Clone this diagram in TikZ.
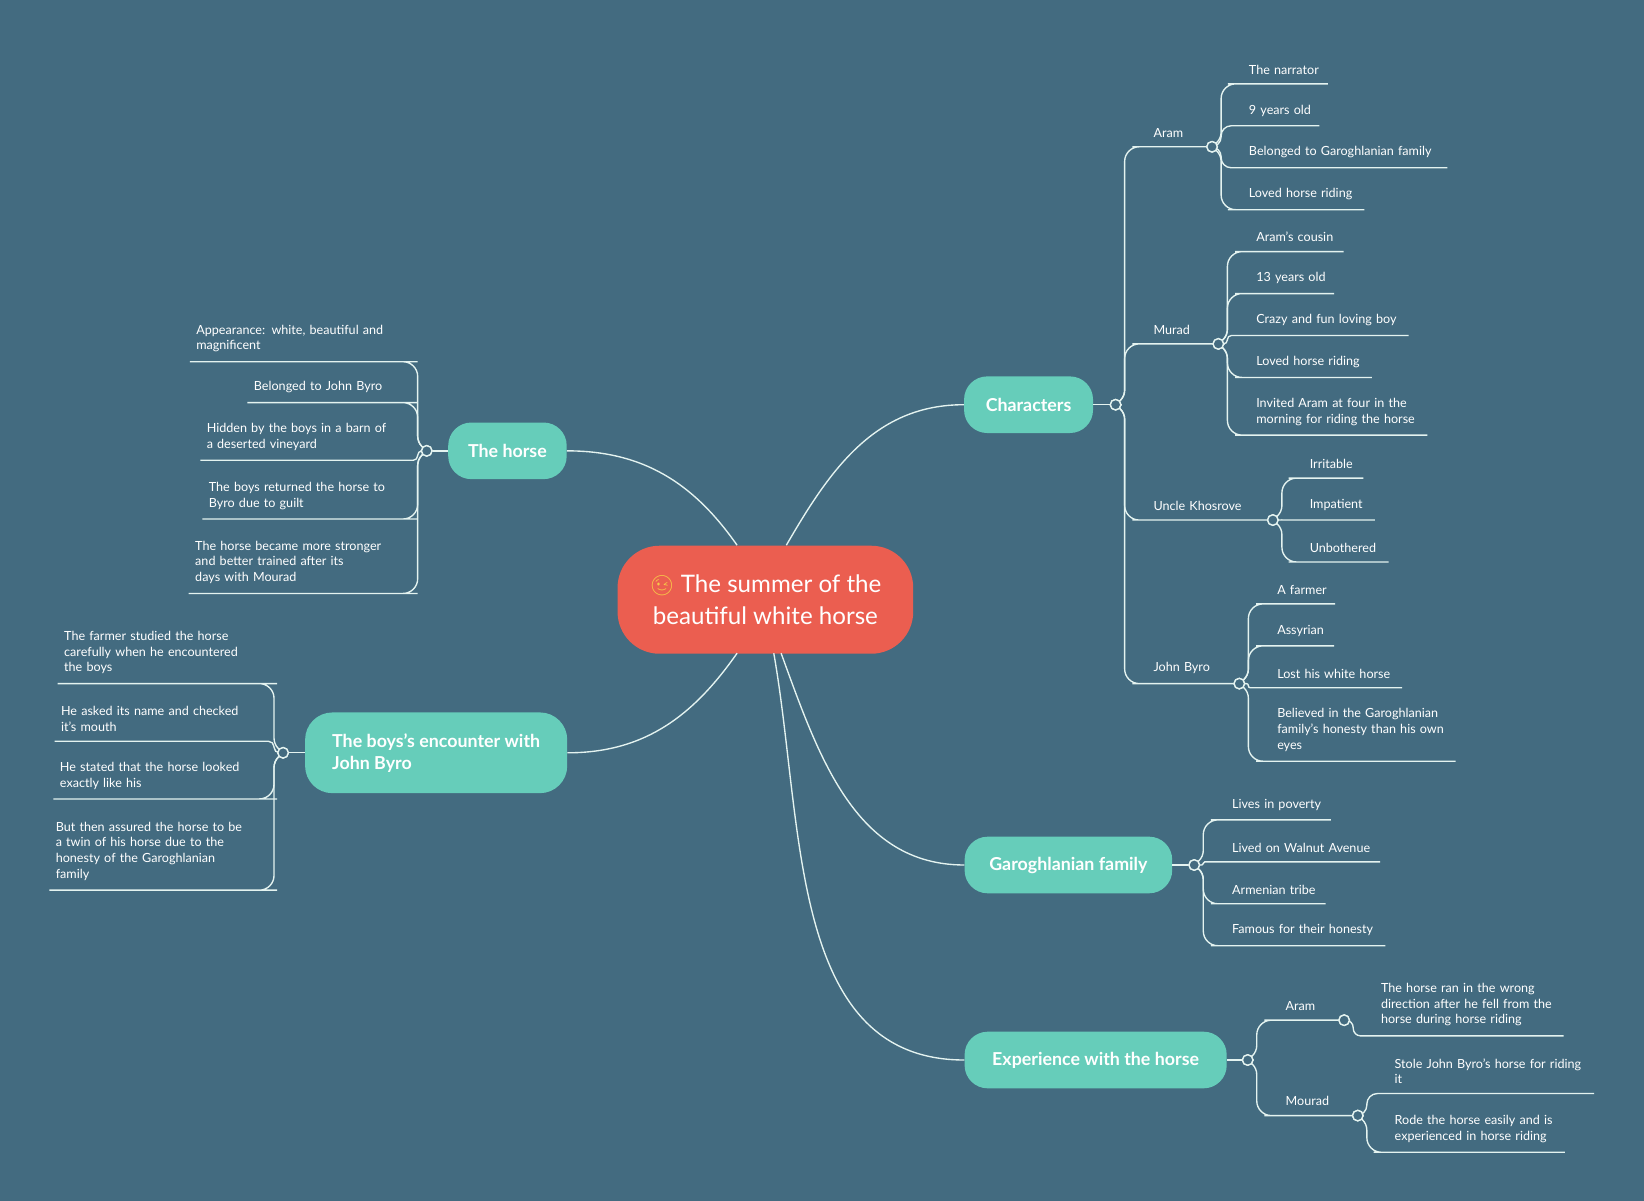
\documentclass[tikz,border=0pt]{standalone}
\usepackage{fontspec}
\usetikzlibrary{calc}
\setmainfont{Lato}
\newfontfamily\emo{Noto Emoji}
\definecolor{bgc}{HTML}{436B80}
\definecolor{redc}{HTML}{EB5E50}
\definecolor{tealc}{HTML}{66CDBA}
\definecolor{linec}{HTML}{E4F3F0}
\definecolor{emoc}{HTML}{F7C948}
\newcommand\leafR[5]{\node[leaf,anchor=south west,text width=\dimexpr #4pt-#2pt-6pt\relax] (#1) at ({#2-6},#3) {#5};}
\newcommand\leafL[5]{\node[leaf,anchor=south west,text width=\dimexpr #4pt-#2pt-12pt\relax] (#1) at (#2,#3) {#5};}
\newcommand\conR[2]{\draw[conn] let \p1=(#1.east), \p2=(#2.south west), \n1={max(0.1pt,min(14pt,abs(\y2-\y1)/2.1))} in [rounded corners=\n1] (\p1) -- ++(3,0) |- (\p2) -- (#2.south east);}
\newcommand\conL[2]{\draw[conn] let \p1=(#1.west), \p2=(#2.south east), \n1={max(0.1pt,min(14pt,abs(\y2-\y1)/2.1))} in [rounded corners=\n1] (\p1) -- ++(-3,0) |- (\p2) -- (#2.south west);}
\begin{document}
\begin{tikzpicture}[x=1pt,y=-1pt,
  leaf/.style={inner xsep=6pt,inner ysep=9pt,align=left,text=white,font=\fontsize{12}{15}\selectfont},
  conn/.style={draw=linec,line width=1.3pt},
  dot/.style={circle,draw=linec,fill=bgc,line width=1.3pt,minimum size=10pt,inner sep=0pt},
  mainn/.style={fill=tealc,rounded corners=22pt,text=white,font=\fontsize{17}{21}\selectfont\bfseries,align=left,inner xsep=16pt,minimum height=54pt}]
\fill[bgc] (0,0) rectangle (1568,1145);
\useasboundingbox (0,0) rectangle (1568,1145);
% center
\node[fill=redc,rounded corners=40pt,text=white,align=center,minimum width=282pt,minimum height=103pt,font=\fontsize{23}{31}\selectfont] (ctr) at (730,572) {{\emo\fontsize{19}{20}\selectfont\color{emoc}😉} The summer of the\\beautiful white horse};
% main nodes
\node[mainn,minimum width=123pt] (chars) at (981,386) {Characters};
\node[mainn,minimum width=198pt] (garo) at (1019,825) {Garoghlanian family};
\node[mainn,minimum width=250pt] (exp) at (1045,1011) {Experience with the horse};
\node[mainn,minimum width=113pt] (horse) at (484,430) {The horse};
\node[mainn,minimum width=250pt,minimum height=77pt,rounded corners=26pt] (boys) at (416,718) {The boys’s encounter with\\John Byro};
\draw[conn] (750,520) coordinate (s1) to[out=60,in=180] (chars.west);
\draw[conn] (745,623) coordinate (s2) to[out=-70,in=180] (garo.west);
\draw[conn] (738,623) coordinate (s3) to[out=-80,in=180] (exp.west);
\draw[conn] (703,520) coordinate (s4) to[out=125,in=0] (horse.east);
\draw[conn] (703,623) coordinate (s5) to[out=-125,in=0] (boys.east);
% dots
\node[dot] (dchars) at (1064,386) {};
\node[dot] (dgaro) at (1139,825) {};
\node[dot] (dexp) at (1190,1011) {};
\node[dot] (dhorse) at (407,430) {};
\node[dot] (dboys) at (270,718) {};
\draw[conn] (chars.east) -- (dchars); \draw[conn] (garo.east) -- (dgaro);
\draw[conn] (exp.east) -- (dexp); \draw[conn] (horse.west) -- (dhorse);
\draw[conn] (boys.west) -- (dboys);
% Characters
\leafR{aram}{1100}{140}{1150}{Aram}
\leafR{murad}{1100}{328}{1156}{Murad}
\leafR{khos}{1100}{496}{1208}{Uncle Khosrove}
\leafR{byro}{1100}{652}{1176}{John Byro}
\foreach \q in {aram,murad,khos,byro} {\conR{dchars}{\q}}
\node[dot] (daram) at (1156,140) {};
\node[dot] (dmurad) at (1162,328) {};
\node[dot] (dkhos) at (1214,496) {};
\node[dot] (dbyro) at (1182,652) {};
\leafR{a1}{1191}{80}{1266}{The narrator}
\leafR{a2}{1191}{120}{1258}{9 years old}
\leafR{a3}{1191}{160}{1380}{Belonged to Garoghlanian family}
\leafR{a4}{1191}{200}{1301}{Loved horse riding}
\foreach \q in {a1,a2,a3,a4} {\conR{daram}{\q}}
\leafR{m1}{1198}{240}{1281}{Aram’s cousin}
\leafR{m2}{1198}{280}{1272}{13 years old}
\leafR{m3}{1198}{320}{1343}{Crazy and fun loving boy}
\leafR{m4}{1198}{360}{1308}{Loved horse riding}
\leafR{m5}{1198}{415}{1361}{Invited Aram at four in the\\morning for riding the horse}
\foreach \q in {m1,m2,m3,m4,m5} {\conR{dmurad}{\q}}
\leafR{k1}{1249}{456}{1300}{Irritable}
\leafR{k2}{1249}{496}{1311}{Impatient}
\leafR{k3}{1249}{536}{1324}{Unbothered}
\foreach \q in {k1,k2,k3} {\conR{dkhos}{\q}}
\leafR{b1}{1218}{576}{1273}{A farmer}
\leafR{b2}{1218}{616}{1272}{Assyrian}
\leafR{b3}{1218}{656}{1337}{Lost his white horse}
\leafR{b4}{1218}{726}{1388}{Believed in the Garoghlanian\\family’s honesty than his own\\eyes}
\foreach \q in {b1,b2,b3,b4} {\conR{dbyro}{\q}}
% Garoghlanian
\leafR{g1}{1175}{782}{1269}{Lives in poverty}
\leafR{g2}{1175}{822}{1316}{Lived on Walnut Avenue}
\leafR{g3}{1175}{862}{1264}{Armenian tribe}
\leafR{g4}{1175}{902}{1321}{Famous for their honesty}
\foreach \q in {g1,g2,g3,g4} {\conR{dgaro}{\q}}
% Experience
\leafR{earam}{1226}{973}{1276}{Aram}
\leafR{emour}{1226}{1064}{1289}{Mourad}
\foreach \q in {earam,emour} {\conR{dexp}{\q}}
\node[dot] (dearam) at (1282,973) {};
\node[dot] (demour) at (1295,1064) {};
\leafR{e1}{1317}{988}{1491}{The horse ran in the wrong\\direction after he fell from the\\horse during horse riding}
\conR{dearam}{e1}
\leafR{e2}{1330}{1043}{1520}{Stole John Byro’s horse for riding\\it}
\leafR{e3}{1330}{1099}{1492}{Rode the horse easily and is\\experienced in horse riding}
\foreach \q in {e2,e3} {\conR{demour}{\q}}
% The horse
\leafL{h1}{181}{345}{384}{Appearance: white, beautiful and\\magnificent}
\leafL{h2}{236}{384}{384}{Belonged to John Byro}
\leafL{h3}{191}{439}{384}{Hidden by the boys in a barn of\\a deserted vineyard}
\leafL{h4}{193}{495}{384}{The boys returned the horse to\\Byro due to guilt}
\leafL{h5}{180}{566}{384}{The horse became more stronger\\and better trained after its\\days with Mourad}
\foreach \q in {h1,h2,h3,h4,h5} {\conL{dhorse}{\q}}
% Boys
\leafL{y1}{55}{652}{250}{The farmer studied the horse\\carefully when he encountered\\the boys}
\leafL{y2}{52}{707}{250}{He asked its name and checked\\it’s mouth}
\leafL{y3}{51}{762}{250}{He stated that the horse looked\\exactly like his}
\leafL{y4}{47}{849}{250}{But then assured the horse to be\\a twin of his horse due to the\\honesty of the Garoghlanian\\family}
\foreach \q in {y1,y2,y3,y4} {\conL{dboys}{\q}}
% redraw dots on top
\foreach \d in {dchars,dgaro,dexp,dhorse,dboys,daram,dmurad,dkhos,dbyro,dearam,demour} {\node[dot] at (\d) {};}
\end{tikzpicture}
\end{document}
